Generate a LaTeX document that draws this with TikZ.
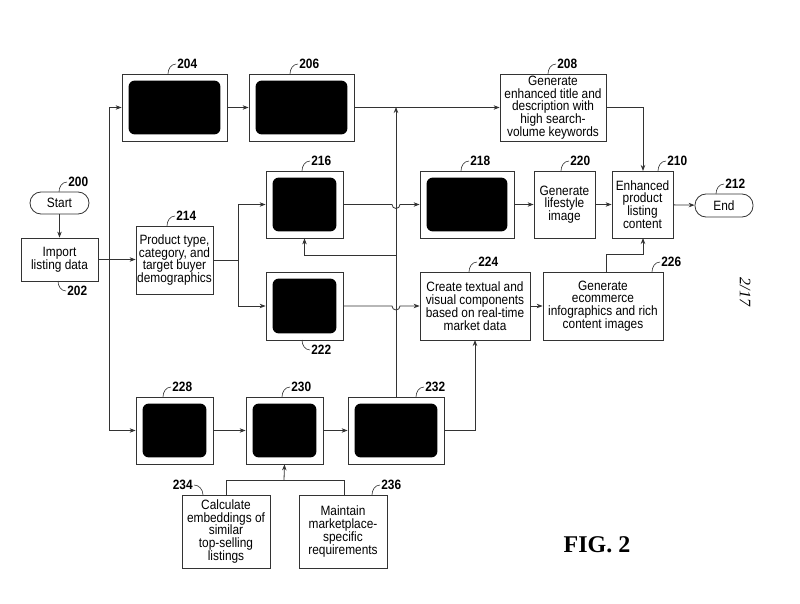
\documentclass[tikz,border=0pt]{standalone}
\usepackage{fontspec}
\setmainfont{Liberation Sans}[FakeStretch=0.88]
\newfontfamily\seriffont{Liberation Serif}
\usetikzlibrary{arrows.meta}
\begin{document}
\begin{tikzpicture}[x=1pt,y=-1pt,
  ln/.style={draw=black!80, line width=0.8pt},
  arr/.style={ln, -{Stealth[length=6pt,width=4.5pt]}},
  box/.style={ln, rectangle, inner sep=1pt, align=center, font=\fontsize{13.5}{12.8}\selectfont},
  term/.style={box, rounded corners=11pt},
  blob/.style={fill=black, rounded corners=6pt},
  num/.style={font=\bfseries\fontsize{13.5}{13.5}\selectfont, inner sep=1pt}]
\useasboundingbox (0,0) rectangle (800,604);
\newcommand{\lbl}[3]{\draw[ln, line width=0.6pt] (#1,#2) to[out=90,in=180] (#1+8,#2-10) node[num, anchor=west]{#3};}
\newcommand{\lblb}[3]{\draw[ln, line width=0.6pt] (#1,#2) to[out=-90,in=180] (#1+8,#2+10) node[num, anchor=west]{#3};}
\newcommand{\redact}[1]{\fill[blob] ([shift={(7,7)}]#1.north west) rectangle ([shift={(-7,-7)}]#1.south east);}

\node[term, minimum width=59pt, minimum height=22pt] (start) at (59.5,203) {Start};
\node[box, minimum width=77pt, minimum height=43pt] (n202) at (59.5,259.5) {Import\\listing data};
\node[box, minimum width=77pt, minimum height=68pt] (n214) at (174.5,260) {Product type,\\category, and\\target buyer\\demographics};
\node[box, minimum width=105pt, minimum height=67pt] (n204) at (174.5,107.5) {};
\node[box, minimum width=105pt, minimum height=67pt] (n206) at (301.5,107.5) {};
\node[box, minimum width=106pt, minimum height=67pt] (n208) at (553,107.5) {Generate\\enhanced title and\\description with\\high search-\\volume keywords};
\node[box, minimum width=77pt, minimum height=67pt] (n216) at (304.5,204.5) {};
\node[box, minimum width=77pt, minimum height=68pt] (n222) at (304.5,306) {};
\node[box, minimum width=94pt, minimum height=67pt] (n218) at (467,204.5) {};
\node[box, minimum width=61pt, minimum height=67pt] (n220) at (564.5,204.5) {Generate\\lifestyle\\image};
\node[box, minimum width=61pt, minimum height=67pt] (n210) at (642.5,204.5) {Enhanced\\product\\listing\\content};
\node[term, minimum width=58pt, minimum height=23pt] (end) at (724,205.5) {End};
\node[box, minimum width=110pt, minimum height=68pt] (n224) at (475,306) {Create textual and\\visual components\\based on real-time\\market data};
\node[box, minimum width=120pt, minimum height=68pt] (n226) at (603,306) {Generate\\ecommerce\\infographics and rich\\content images};
\node[box, minimum width=77pt, minimum height=67pt] (n228) at (174.5,430.5) {};
\node[box, minimum width=77pt, minimum height=67pt] (n230) at (284.5,430.5) {};
\node[box, minimum width=96pt, minimum height=67pt] (n232) at (396,430.5) {};
\node[box, minimum width=88pt, minimum height=73pt] (n234) at (226,531.5) {Calculate\\embeddings of\\similar\\top-selling\\listings};
\node[box, minimum width=88pt, minimum height=73pt] (n236) at (343,531.5) {Maintain\\marketplace-\\specific\\requirements};

\foreach \b in {n204,n206,n216,n222,n218,n228,n230,n232} {\redact{\b}}

% labels
\lbl{59}{192}{200}
\lblb{58}{281}{202}
\lbl{168}{74}{204}
\lbl{290}{74}{206}
\lbl{548}{74}{208}
\lbl{167}{226}{214}
\lbl{302}{171}{216}
\lblb{302}{340}{222}
\lbl{461}{171}{218}
\lbl{561}{171}{220}
\lbl{658}{171}{210}
\lbl{716}{194}{212}
\lbl{469}{272}{224}
\lbl{652}{272}{226}
\lbl{163}{397}{228}
\lbl{282}{397}{230}
\lbl{416}{397}{232}
\lbl{372}{495}{236}
\draw[ln, line width=0.6pt] (203,495) to[out=90,in=0] (194,485) node[num, anchor=east]{234};

% connectors
\coordinate (tr) at (109,259.5);
\coordinate (br) at (238,260);
\draw[arr] (start) -- (n202);
\draw[arr] (n202.east) -- (n202.east -| n214.west);
\draw[arr] (tr) |- (n204.west);
\draw[arr] (tr) |- (n228.west);
\draw[arr] (n204) -- (n206);
\draw[arr] (n206.east) -- (n208.west);
\draw[arr] (n232.north) -- (396,107);
\draw[arr] (396,255) -| (n216.south);
\draw[ln] (n214.east) -- (br);
\draw[arr] (br) |- (n216.west);
\draw[arr] (br) |- (n222.west);
\draw[arr] (n216.east) -- (392,204.5) arc[start angle=180,end angle=0,radius=4] -- (n218.west);
\draw[arr] (n222.east) -- (392,306) arc[start angle=180,end angle=0,radius=4] -- (n224.west);
\draw[arr] (n218) -- (n220);
\draw[arr] (n220) -- (n210);
\draw[arr] (n210) -- (end);
\draw[arr] (n208.east) -| (643,171);
\draw[arr] (606,272) |- (643,254) -- (643,238);
\draw[arr] (n224) -- (n226);
\draw[arr] (n232.east) -| (475,340);
\draw[arr] (n228) -- (n230);
\draw[arr] (n230) -- (n232);
\draw[ln] (226,495) |- (344,480) -- (344,495);
\draw[arr] (284,480) -- (n230.south);

\node[font=\seriffont\itshape\fontsize{16}{16}\selectfont, rotate=-90] (pg) at (745,292) {2/17};
\node[font=\seriffont\bfseries\fontsize{24}{24}\selectfont] (fig) at (597,545) {FIG. 2};
\end{tikzpicture}
\end{document}
